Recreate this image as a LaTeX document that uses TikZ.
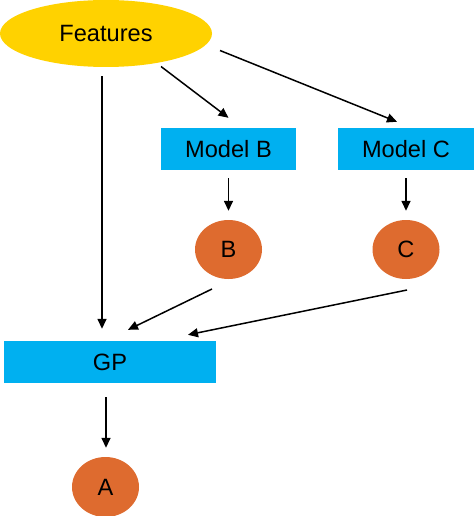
\documentclass[tikz,border=0pt]{standalone}
\usepackage{fontspec}
\setmainfont{Liberation Sans}
\usetikzlibrary{shapes.geometric,arrows.meta,calc}
\definecolor{featyellow}{HTML}{FFD200}
\definecolor{boxblue}{HTML}{00B0F0}
\definecolor{varorange}{HTML}{DE6B2F}
\begin{document}
\begin{tikzpicture}[x=1pt,y=-1pt,
  lbl/.style={font=\fontsize{23.6}{28}\selectfont, text=black},
  feature/.style={ellipse, fill=featyellow, draw=none, inner sep=0pt, minimum width=212pt, minimum height=67pt, lbl},
  modelbox/.style={rectangle, fill=boxblue, draw=none, inner sep=0pt, minimum height=42pt, lbl},
  varnode/.style={ellipse, fill=varorange, draw=none, inner sep=0pt, minimum width=67pt, minimum height=59pt, lbl},
  arr/.style={line width=1.5pt, -{Triangle[length=10pt,width=9pt]}}]
\useasboundingbox (0,0) rectangle (474,516);
\node[feature] (feat) at (106,33.5) {Features};
\node[modelbox, minimum width=135pt] (mb) at (228.5,149) {Model B};
\node[modelbox, minimum width=136pt] (mc) at (406,149) {Model C};
\node[varnode] (b) at (228.5,249.5) {B};
\node[varnode] (c) at (406,249.5) {C};
\node[modelbox, minimum width=212pt] (gp) at (110,362) {GP};
\node[varnode, minimum height=60pt] (a) at (105.5,487) {A};
\draw[arr] ($(feat.center)+(55,33)$) -- ($(mb.north)+(0,-10)$);
\draw[arr] ($(feat.center)+(114,17)$) -- ($(mc.north)+(-9,-6)$);
\draw[arr] ($(feat.center)+(-4,43)$) -- ($(gp.north)+(-8,-12)$);
\draw[arr] ($(mb.south)+(0,8)$) -- ($(b.north)+(0,-9)$);
\draw[arr] ($(mc.south)+(0,8)$) -- ($(c.north)+(0,-9)$);
\draw[arr] ($(b.center)+(-16.5,39.5)$) -- ($(gp.north)+(18,-11)$);
\draw[arr] ($(c.center)+(1,40.5)$) -- ($(gp.north)+(78,-6)$);
\draw[arr] ($(gp.south)+(-4,14)$) -- ($(a.north)+(0.5,-9)$);
\end{tikzpicture}
\end{document}
